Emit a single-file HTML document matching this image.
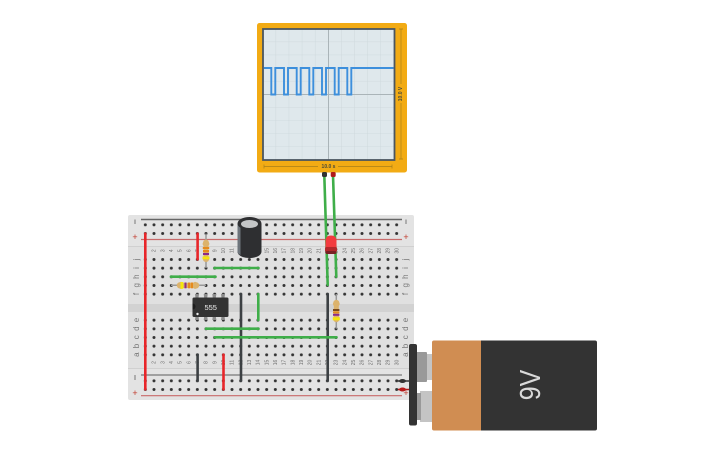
<!DOCTYPE html>
<html><head><meta charset="utf-8"><style>
html,body{margin:0;padding:0;background:#fff;width:725px;height:453px;overflow:hidden}
svg{display:block}
text{font-family:"Liberation Sans",sans-serif}
</style></head><body>
<svg width="725" height="453" viewBox="0 0 725 453" xmlns="http://www.w3.org/2000/svg">
<defs>
<pattern id="h" x="141" y="220.47" width="8.667" height="8.667" patternUnits="userSpaceOnUse">
<circle cx="4.33" cy="4.33" r="1.5" fill="#333"/>
</pattern>
<pattern id="g" x="263" y="29" width="13.1" height="13.1" patternUnits="userSpaceOnUse">
<path d="M13.1 0V13.1M0 13.1H13.1" stroke="#ccd6da" stroke-width=".8" fill="none"/>
</pattern>
</defs>

<rect x="128" y="215" width="286" height="185" rx="2" fill="#e3e3e3"/>
<rect x="128" y="246" width="286" height="122" fill="#e0e0e0"/>
<rect x="128" y="304" width="286" height="8" fill="#d2d2d2"/>
<path d="M128 246.5H414M128 368.5H414" stroke="#d0d0d0"/>
<path d="M141 219.5H402" stroke="#666" stroke-width="1.5"/>
<path d="M141 239.5H402" stroke="#c86a6a" stroke-width="1.2"/>
<path d="M141 375H402" stroke="#8a8a8a" stroke-width="1.5"/>
<path d="M141 395.7H402" stroke="#c86a6a" stroke-width="1.2"/>

<g fill="url(#h)">
<rect x="141" y="220.47" width="260" height="17.33"/>
<rect x="141" y="255.14" width="260" height="43.33"/>
<rect x="141" y="315.8" width="260" height="43.33"/>
<rect x="141" y="376.47" width="260" height="17.33"/>
</g>

<path d="M135 219.5V224M406 219.5V224M135 375V380" stroke="#777" stroke-width="1"/>
<g fill="#c0392b" font-size="9" text-anchor="middle">
<text x="135" y="240">+</text>
<text x="406" y="240">+</text>
<text x="135" y="396">+</text>
<text x="406" y="396">+</text>
</g>

<g fill="#777" font-size="8" text-anchor="middle" transform="translate(139,0) rotate(-90)">
<text x="-259.3">j</text><text x="-268">i</text><text x="-276.7">h</text><text x="-285.3">g</text><text x="-294">f</text>
<text x="-320">e</text><text x="-328.7">d</text><text x="-337.3">c</text><text x="-346">b</text><text x="-354.7">a</text>
</g>
<g fill="#777" font-size="8" text-anchor="middle" transform="translate(408,0) rotate(-90)">
<text x="-259.3">j</text><text x="-268">i</text><text x="-276.7">h</text><text x="-285.3">g</text><text x="-294">f</text>
<text x="-320">e</text><text x="-328.7">d</text><text x="-337.3">c</text><text x="-346">b</text><text x="-354.7">a</text>
</g>

<g fill="#6f6f6f" font-size="5" text-anchor="middle" transform="translate(0,250.7) rotate(-90)">
<text y="155.7">2</text><text y="164.3">3</text><text y="173">4</text><text y="181.7">5</text><text y="190.3">6</text><text y="199">7</text><text y="207.7">8</text><text y="216.3">9</text><text y="225">10</text><text y="233.7">11</text><text y="242.3">12</text><text y="251">13</text><text y="259.7">14</text><text y="268.3">15</text><text y="277">16</text><text y="285.7">17</text><text y="294.3">18</text><text y="303">19</text><text y="311.7">20</text><text y="320.3">21</text><text y="329">22</text><text y="337.7">23</text><text y="346.3">24</text><text y="355">25</text><text y="363.7">26</text><text y="372.3">27</text><text y="381">28</text><text y="389.7">29</text><text y="398.3">30</text>
</g>
<g fill="#6f6f6f" font-size="5" text-anchor="middle" transform="translate(0,362.5) rotate(-90)">
<text y="155.7">2</text><text y="164.3">3</text><text y="173">4</text><text y="181.7">5</text><text y="190.3">6</text><text y="199">7</text><text y="207.7">8</text><text y="216.3">9</text><text y="225">10</text><text y="233.7">11</text><text y="242.3">12</text><text y="251">13</text><text y="259.7">14</text><text y="268.3">15</text><text y="277">16</text><text y="285.7">17</text><text y="294.3">18</text><text y="303">19</text><text y="311.7">20</text><text y="320.3">21</text><text y="329">22</text><text y="337.7">23</text><text y="346.3">24</text><text y="355">25</text><text y="363.7">26</text><text y="372.3">27</text><text y="381">28</text><text y="389.7">29</text><text y="398.3">30</text>
</g>

<g fill="none" stroke-width="2.6" stroke-linecap="round">
<path d="M145.3 233.7V389.3" stroke="#e8262a"/>
<path d="M197.6 233.7V259.3" stroke="#e8262a"/>
<path d="M223.5 354.7V389.3" stroke="#e8262a"/>
<path d="M241 294V380.7" stroke="#3c4043"/>
<path d="M197.6 354.7V380.7" stroke="#3c4043"/>
<path d="M327.7 294V380.7" stroke="#3c4043"/>
<path d="M258.3 294V320" stroke="#3fae49"/>
<path d="M214.5 268H258.5" stroke="#3fae49"/>
<path d="M171 276.7H215.5" stroke="#3fae49"/>
<path d="M206 328.7H258.5" stroke="#3fae49"/>
<path d="M215 337.3H336.5" stroke="#3fae49"/>
</g>

<g fill="#8c8c8c">
<path d="M195 294h4l-.5 4h-3zM203.7 294h4l-.5 4h-3zM212.3 294h4l-.5 4h-3zM221 294h4l-.5 4h-3z"/>
<path d="M195.5 316h3l.5 4h-4zM204.2 316h3l.5 4h-4zM212.8 316h3l.5 4h-4zM221.5 316h3l.5 4h-4z"/>
</g>
<rect x="192.5" y="297.5" width="36" height="19.5" rx="1.5" fill="#333"/>
<path d="M192.5 303.5a3 3 0 0 1 0 6z" fill="#1d1d1d"/>
<circle cx="197.5" cy="314" r="1.2" fill="#eee"/>
<text x="210.7" y="310" fill="#eee" font-size="7.5" text-anchor="middle">555</text>

<path d="M206 233.7V268" stroke="#999" stroke-width="1.5"/>
<path d="M203.5 241Q206 238 208.5 241L209.5 244L208.5 246V256L209.5 258L208.5 261Q206 263 203.5 261L202.5 258L203.5 256V246L202.5 244Z" fill="#dcb36c"/>
<rect x="202.8" y="247" width="6.4" height="2" fill="#e68a1c"/>
<rect x="203" y="250" width="6" height="2.3" fill="#e68a1c"/>
<rect x="203" y="253" width="6" height="2" fill="#8a2a8a"/>
<rect x="202.6" y="256.5" width="6.8" height="2.8" fill="#f5e60c"/>

<path d="M171 285.3H206" stroke="#999" stroke-width="1.5"/>
<path d="M178 282.8Q175.5 285.3 178 288L181 289L183 288H193L195 289L198 288Q200.5 285.3 198 282.8L195 281.8L193 282.8H183L181 281.8Z" fill="#dcb36c"/>
<rect x="180.5" y="282" width="2.8" height="6.8" fill="#f5e60c"/>
<rect x="184.5" y="282.5" width="2" height="5.8" fill="#8a2a8a"/>
<rect x="188" y="282.5" width="2.3" height="5.8" fill="#e68a1c"/>
<rect x="191" y="282.5" width="2" height="5.8" fill="#e68a1c"/>

<path d="M336.3 294V328.7" stroke="#999" stroke-width="1.5"/>
<path d="M333.8 301Q336.3 298.5 338.8 301L339.8 304L338.8 306V316L339.8 318L338.8 321Q336.3 323.5 333.8 321L332.8 318L333.8 316V306L332.8 304Z" fill="#dcb36c"/>
<rect x="333" y="309" width="6.4" height="2" fill="#7a4a1c"/>
<rect x="333" y="311.5" width="6.4" height="1.8" fill="#e68a1c"/>
<rect x="333" y="313.8" width="6.4" height="2" fill="#8a2a8a"/>
<rect x="332.8" y="317.3" width="7" height="3" fill="#f5e60c"/>

<path d="M237.5 224V251.5C237.5 255.5 243 258 249.5 258S261.5 255.5 261.5 251.5V224Z" fill="#2e2f31"/>
<path d="M237.5 224V251.5C237.5 253 238.5 254 240.5 255V226Z" fill="#6d747b"/>
<ellipse cx="249.5" cy="223.5" rx="12" ry="6.5" fill="#2e2f31"/>
<ellipse cx="249.5" cy="224" rx="8.5" ry="4" fill="#c4c6c7"/>

<g fill="none" stroke="#3fae49" stroke-width="2.6" stroke-linecap="round">
<path d="M324.3 175L327.7 285"/>
<path d="M333 175L336.3 276.7"/>
</g>

<path d="M325.5 240.5C325.5 237 328 235.5 331 235.5S336.5 237 336.5 240.5V248H325.5Z" fill="#f33b3f"/>
<rect x="325" y="247" width="12" height="5" rx="1.5" fill="#b3282c"/>
<rect x="325.5" y="251" width="11" height="3" rx="1.5" fill="#7a2024"/>

<rect x="257" y="23" width="150" height="149.5" rx="2.5" fill="#f2ab14"/>
<rect x="263" y="29" width="131.5" height="131" fill="#dfe8ec"/>
<rect x="263" y="29" width="131.5" height="131" fill="url(#g)"/>
<path d="M328.5 29V160M263 94.5H394.5" stroke="#aab4b8" stroke-width="1"/>
<rect x="263" y="29" width="131.5" height="131" fill="none" stroke="#4a5560" stroke-width="1.8"/>
<path d="M264 68H271.3V94.5H275.3V68H284V94.5H288V68H296.7V94.5H300.7V68H309.3V94.5H313.3V68H322V94.5H326V68H334.7V94.5H338.7V68H347.3V94.5H351.3V68H393.5" fill="none" stroke="#3d8fdc" stroke-width="1.9"/>
<path d="M264 166.5H318M338 166.5H392M264 164.5V168.5M392 164.5V168.5M401 29V84M401 103V159M399 29H403M399 159H403" stroke="#a8801a" stroke-width=".7" fill="none"/>
<text x="328.5" y="168" fill="#4a4a3a" font-size="5" text-anchor="middle" font-weight="bold">10.0 s</text>
<text transform="translate(402,94) rotate(-90)" fill="#4a4a3a" font-size="5" text-anchor="middle" font-weight="bold">10.0 V</text>
<rect x="322" y="172" width="5" height="5" rx="1.5" fill="#333"/>
<rect x="330.7" y="172" width="5" height="5" rx="1.5" fill="#b01a1a"/>

<path d="M398 381H409" stroke="#333" stroke-width="1.5"/>
<path d="M398 389.5H409" stroke="#b01a1a" stroke-width="1.5"/>
<ellipse cx="402.5" cy="381" rx="3.5" ry="2" fill="#333"/>
<ellipse cx="402.5" cy="389.5" rx="3.5" ry="2" fill="#b81a1a"/>

<rect x="426" y="354" width="7" height="26" fill="#c4c4c4"/>
<rect x="416" y="352" width="11" height="30" rx="1" fill="#999"/>
<rect x="420" y="391" width="13" height="31" fill="#c4c4c4"/>
<rect x="416" y="393" width="5" height="27" fill="#999"/>
<rect x="409" y="344" width="8" height="81.5" rx="2" fill="#333"/>
<rect x="432" y="340.5" width="60" height="90" rx="2" fill="#d08d52"/>
<path d="M481 340.5H595a2 2 0 0 1 2 2V428.5a2 2 0 0 1-2 2H481Z" fill="#333"/>
<text transform="translate(540,385) rotate(-90) scale(1,1.15)" fill="#d9d9d9" font-size="25" text-anchor="middle">9V</text>
</svg>
</body></html>
